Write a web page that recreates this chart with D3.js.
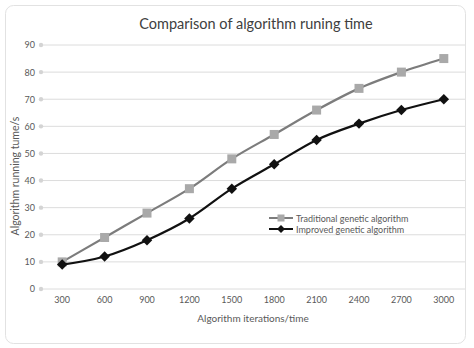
<!DOCTYPE html>
<html>
<head>
<meta charset="utf-8">
<script src="https://cdn.jsdelivr.net/npm/d3@7"></script>
<style>
  body { margin: 0; background: #fff; }
  svg { display: block; font-family: Lato, "Open Sans", sans-serif; }
</style>
</head>
<body>
<svg id="chart" width="474" height="348"></svg>
<script>
const iterations = [300, 600, 900, 1200, 1500, 1800, 2100, 2400, 2700, 3000];
const traditional = [10, 19, 28, 37, 48, 57, 66, 74, 80, 85];
const improved = [9, 12, 18, 26, 37, 46, 55, 61, 66, 70];
const yTicks = [0, 10, 20, 30, 40, 50, 60, 70, 80, 90];

const svg = d3.select("#chart");

// frame around the chart
svg.append("rect")
  .attr("x", 5.5).attr("y", 5.5)
  .attr("width", 460).attr("height", 338)
  .attr("rx", 8)
  .attr("fill", "#fff")
  .attr("stroke", "#e2e2e2");

const x = d3.scaleBand()
  .domain(iterations)
  .range([41, 465]);

const y = d3.scaleLinear()
  .domain([0, 90])
  .range([289, 45]);

// horizontal gridlines
svg.append("g")
  .selectAll("line")
  .data(yTicks)
  .join("line")
  .attr("x1", 41).attr("x2", 465)
  .attr("y1", d => y(d)).attr("y2", d => y(d))
  .attr("stroke", "#dcdcdc");

svg.append("g")
  .selectAll("circle")
  .data(yTicks)
  .join("circle")
  .attr("cx", 41).attr("cy", d => y(d))
  .attr("r", 2.2)
  .attr("fill", "#d4d4d4");

// y axis labels
const yAxis = svg.append("g")
  .attr("transform", "translate(41,0)")
  .call(d3.axisLeft(y).tickValues(yTicks).tickSize(0).tickPadding(6));
yAxis.select(".domain").remove();
yAxis.selectAll("text")
  .attr("fill", "#595959")
  .style("font-size", "9px")
  .style("font-family", "Lato, sans-serif");

// x axis labels
const xAxis = svg.append("g")
  .attr("transform", "translate(0,289)")
  .call(d3.axisBottom(x).tickSize(0).tickPadding(8));
xAxis.select(".domain").remove();
xAxis.selectAll("text")
  .attr("fill", "#595959")
  .style("font-size", "9px")
  .style("font-family", "Lato, sans-serif");

const cx = (d, i) => x(iterations[i]) + x.bandwidth() / 2;

const line = d3.line()
  .x((d, i) => cx(d, i))
  .y(d => y(d))
  .curve(d3.curveMonotoneX);

// traditional series
svg.append("path")
  .datum(traditional)
  .attr("d", line)
  .attr("fill", "none")
  .attr("stroke", "#7c7c7c")
  .attr("stroke-width", 2.2);

svg.append("g")
  .selectAll("rect")
  .data(traditional)
  .join("rect")
  .attr("x", (d, i) => cx(d, i) - 4.5)
  .attr("y", d => y(d) - 4.5)
  .attr("width", 9).attr("height", 9)
  .attr("fill", "#a9a9a9");

// improved series
svg.append("path")
  .datum(improved)
  .attr("d", line)
  .attr("fill", "none")
  .attr("stroke", "#111")
  .attr("stroke-width", 2.2);

const diamond = d3.symbol().type(d3.symbolDiamond2).size(70);
svg.append("g")
  .selectAll("path")
  .data(improved)
  .join("path")
  .attr("transform", (d, i) => `translate(${cx(d, i)},${y(d)})`)
  .attr("d", diamond)
  .attr("fill", "#111");

// legend
const legend = svg.append("g").attr("transform", "translate(269,218)");
legend.append("line")
  .attr("x1", 0).attr("x2", 24).attr("y1", 0).attr("y2", 0)
  .attr("stroke", "#7c7c7c").attr("stroke-width", 2);
legend.append("rect")
  .attr("x", 8.5).attr("y", -3.5).attr("width", 7).attr("height", 7)
  .attr("fill", "#a9a9a9");
legend.append("text")
  .attr("x", 27).attr("y", 3.5)
  .attr("fill", "#595959")
  .style("font-size", "9px")
  .text("Traditional genetic algorithm");

legend.append("line")
  .attr("x1", 0).attr("x2", 24).attr("y1", 11).attr("y2", 11)
  .attr("stroke", "#111").attr("stroke-width", 2);
legend.append("path")
  .attr("transform", "translate(12,11)")
  .attr("d", d3.symbol().type(d3.symbolDiamond2).size(40))
  .attr("fill", "#111");
legend.append("text")
  .attr("x", 27).attr("y", 14.5)
  .attr("fill", "#595959")
  .style("font-size", "9px")
  .text("Improved genetic algorithm");

// titles
svg.append("text")
  .attr("x", 256).attr("y", 29)
  .attr("text-anchor", "middle")
  .attr("fill", "#404040")
  .style("font-size", "14.5px")
  .text("Comparison of algorithm runing time");

svg.append("text")
  .attr("x", 253).attr("y", 322)
  .attr("text-anchor", "middle")
  .attr("fill", "#595959")
  .style("font-size", "10px")
  .text("Algorithm iterations/time");

svg.append("text")
  .attr("transform", "translate(19,176) rotate(-90)")
  .attr("text-anchor", "middle")
  .attr("fill", "#595959")
  .style("font-size", "10.5px")
  .text("Algorithm running tume/s");
</script>
</body>
</html>
